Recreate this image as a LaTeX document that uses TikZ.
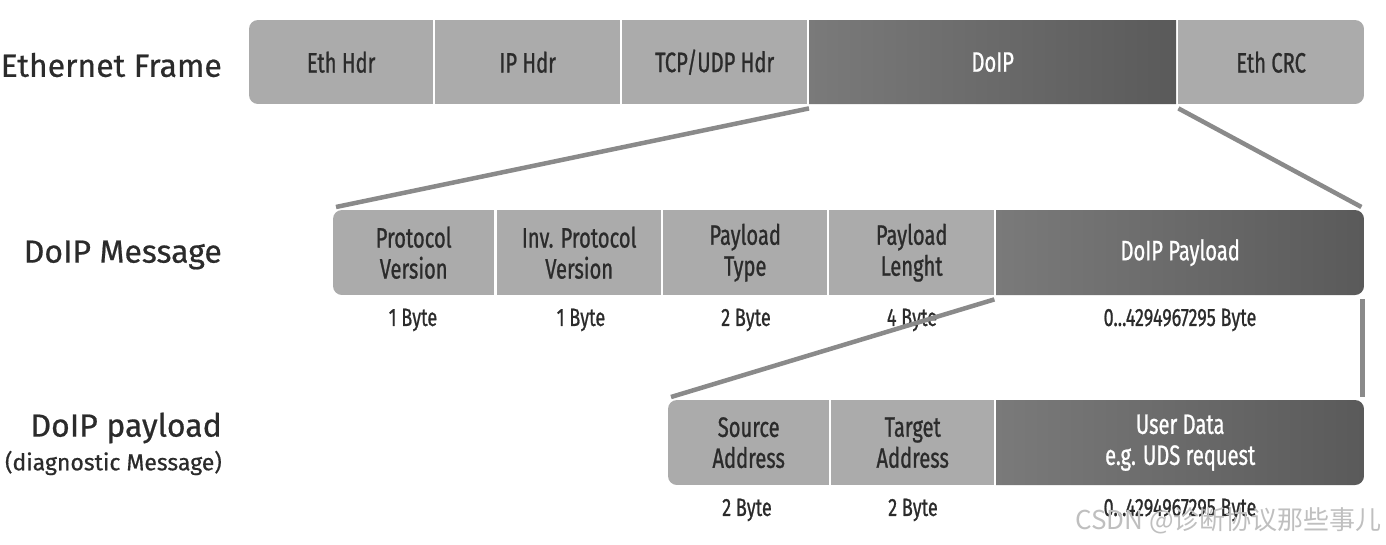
\documentclass[tikz,border=0pt]{standalone}
\usepackage{fontspec}
\setmainfont{Fira Sans}[FakeBold=0.6]
\newfontfamily\cond{Fira Sans}[FakeStretch=0.72,FakeBold=0.8]
\newfontfamily\cjk{Noto Sans CJK SC}
\usetikzlibrary{calc}
\definecolor{boxlight}{HTML}{ABABAB}
\definecolor{darkL}{HTML}{7A7A7A}
\definecolor{darkR}{HTML}{5A5A5A}
\definecolor{txt}{HTML}{2B2B2B}
\definecolor{conn}{HTML}{8A8A8A}
\begin{document}
\begin{tikzpicture}[x=1pt,y=-1pt,
  cell/.style={anchor=north west,inner sep=0pt,minimum height=84pt,align=center,
    font=\cond\fontsize{28}{31}\selectfont,text=txt},
  lightcell/.style={cell,fill=boxlight},
  darkcell/.style={cell,left color=darkL,right color=darkR,text=white},
  rowlabel/.style={anchor=east,inner sep=0pt,font=\fontsize{32}{36}\selectfont,text=txt,align=right},
  bytelabel/.style={inner sep=0pt,font=\cond\fontsize{25}{28}\selectfont,text=txt},
  connector/.style={draw=conn,line width=4.5pt}]
\useasboundingbox (0,0) rectangle (1386,544);
% Row 1
\begin{scope}
\clip[rounded corners=9pt] (249,20) rectangle (1364,104);
\node[lightcell,minimum width=184pt] (eth) at (249,20) {Eth Hdr};
\node[lightcell,minimum width=185pt] (ip) at (435,20) {IP Hdr};
\node[lightcell,minimum width=185pt] (tcp) at (622,20) {TCP/UDP Hdr};
\node[darkcell,minimum width=367pt] (doip) at (809,20) {DoIP};
\node[lightcell,minimum width=186pt] (crc) at (1178,20) {Eth CRC};
\end{scope}
% Row 2
\begin{scope}
\clip[rounded corners=9pt] (333,210) rectangle (1364,295);
\node[lightcell,minimum width=161pt,minimum height=85pt] (pv) at (333,210) {Protocol\\Version};
\node[lightcell,minimum width=164pt,minimum height=85pt] (ipv) at (497,210) {Inv. Protocol\\Version};
\node[lightcell,minimum width=164pt,minimum height=85pt] (pt) at (663,210) {Payload\\Type};
\node[lightcell,minimum width=165pt,minimum height=85pt] (pl) at (829,210) {Payload\\Lenght};
\node[darkcell,minimum width=368pt,minimum height=85pt] (dp) at (996,210) {DoIP Payload};
\end{scope}
% Row 3
\begin{scope}
\clip[rounded corners=9pt] (668,400) rectangle (1364,485);
\node[lightcell,minimum width=161pt,minimum height=85pt] (sa) at (668,400) {Source\\Address};
\node[lightcell,minimum width=163pt,minimum height=85pt] (ta) at (831,400) {Target\\Address};
\node[darkcell,minimum width=368pt,minimum height=85pt] (ud) at (996,400) {User Data\\e.g. UDS request};
\end{scope}
% Row labels
\node[rowlabel] (l1) at (222,65) {Ethernet Frame};
\node[rowlabel] (l2) at (222,255) {DoIP Message};
\node[rowlabel] (l3) at (222,428) {DoIP payload};
\node[rowlabel,font=\fontsize{23}{26}\selectfont] (l4) at (222,463) {(diagnostic Message)};
% Byte labels
\node[bytelabel] (b1) at (413,320) {1 Byte};
\node[bytelabel] (b2) at (581,320) {1 Byte};
\node[bytelabel] (b3) at (746,320) {2 Byte};
\node[bytelabel] (b4) at (912,320) {4 Byte};
\node[bytelabel] (b5) at (1180,320) {0...4294967295 Byte};
\node[bytelabel] (b6) at (747,510) {2 Byte};
\node[bytelabel] (b7) at (913,510) {2 Byte};
\node[bytelabel] (b8) at (1180,510) {0...4294967295 Byte};
% Connectors
\draw[connector] ($(doip.south west)+(0,4)$) -- ($(pv.north west)+(3,-3)$);
\draw[connector] ($(doip.south east)+(2,4)$) -- ($(dp.north east)+(-3,-3)$);
\draw[connector] ($(pl.south east)+(0,4)$) -- ($(sa.north west)+(3,-3)$);
\draw[connector] ($(dp.south east)+(-2,4)$) -- ($(ud.north east)+(-2,-3)$);
% Watermark
\node[anchor=east,inner sep=0pt,font=\cjk\fontsize{26}{30}\selectfont,text=black!25] (wm) at (1382,521) {CSDN @诊断协议那些事儿};
\end{tikzpicture}
\end{document}
